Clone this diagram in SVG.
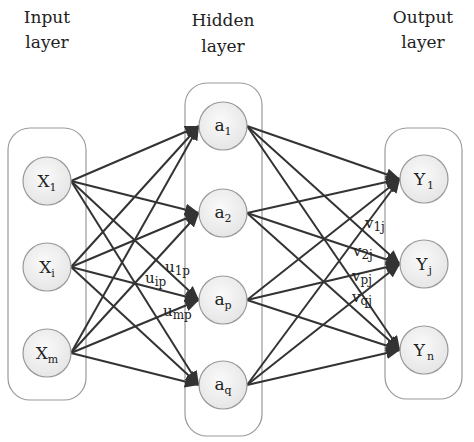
<svg xmlns="http://www.w3.org/2000/svg" width="474" height="442" viewBox="0 0 474 442">
<style>
text{font-family:"DejaVu Serif","Liberation Serif",serif;fill:#222}
.title{font-size:17px;text-anchor:middle}
.lab{font-size:17px;text-anchor:middle}
.sub{font-size:11px}
.w{font-size:15px}
.w .sub{font-size:12px}
.box{fill:#fff;stroke:#9a9a9a;stroke-width:1.2}
.node{fill:url(#g);stroke:#999;stroke-width:1.2}
.c line{stroke:#333;stroke-width:2;marker-end:url(#ah)}
</style>
<defs>
<radialGradient id="g" cx="0.45" cy="0.4" r="0.65"><stop offset="0" stop-color="#fafafa"/><stop offset="1" stop-color="#e4e4e4"/></radialGradient>
<marker id="ah" markerUnits="userSpaceOnUse" markerWidth="14" markerHeight="12" refX="14" refY="6" orient="auto"><path d="M0,0 L14,6 L0,12 Z" fill="#333"/></marker>
</defs>
<rect width="474" height="442" fill="#fff"/>
<g id="titles">
<text class="title" x="47" y="23">Input</text><text class="title" x="47" y="48">layer</text>
<text class="title" x="223" y="26">Hidden</text><text class="title" x="223" y="52">layer</text>
<text class="title" x="423" y="23">Output</text><text class="title" x="423" y="48">layer</text>
</g>
<g id="boxes">
<rect class="box" x="8" y="128" width="78" height="272" rx="22"/>
<rect class="box" x="185" y="83" width="77" height="353" rx="22"/>
<rect class="box" x="385" y="128" width="77" height="271" rx="22"/>
</g>
<g id="connectors" class="c">
<line x1="71" y1="181" x2="199" y2="126"/><line x1="71" y1="181" x2="199" y2="213"/><line x1="71" y1="181" x2="199" y2="300"/><line x1="71" y1="181" x2="199" y2="385"/>
<line x1="71" y1="267" x2="199" y2="126"/><line x1="71" y1="267" x2="199" y2="213"/><line x1="71" y1="267" x2="199" y2="300"/><line x1="71" y1="267" x2="199" y2="385"/>
<line x1="71" y1="353" x2="199" y2="126"/><line x1="71" y1="353" x2="199" y2="213"/><line x1="71" y1="353" x2="199" y2="300"/><line x1="71" y1="353" x2="199" y2="385"/>
<line x1="247" y1="126" x2="400" y2="179"/><line x1="247" y1="126" x2="400" y2="264"/><line x1="247" y1="126" x2="400" y2="350"/>
<line x1="247" y1="213" x2="400" y2="179"/><line x1="247" y1="213" x2="400" y2="264"/><line x1="247" y1="213" x2="400" y2="350"/>
<line x1="247" y1="300" x2="400" y2="179"/><line x1="247" y1="300" x2="400" y2="264"/><line x1="247" y1="300" x2="400" y2="350"/>
<line x1="247" y1="385" x2="400" y2="179"/><line x1="247" y1="385" x2="400" y2="264"/><line x1="247" y1="385" x2="400" y2="350"/>
</g>
<g id="weights" class="w">
<text x="165" y="272">u<tspan class="sub" dy="3">1p</tspan></text>
<text x="145" y="283">u<tspan class="sub" dy="3">ip</tspan></text>
<text x="163" y="316">u<tspan class="sub" dy="3">mp</tspan></text>
<text x="365" y="228">v<tspan class="sub" dy="3">1j</tspan></text>
<text x="353" y="256">v<tspan class="sub" dy="3">2j</tspan></text>
<text x="352" y="281">v<tspan class="sub" dy="3">pj</tspan></text>
<text x="352" y="302">v<tspan class="sub" dy="3">qj</tspan></text>
</g>
<g id="X1"><circle class="node" cx="47" cy="181" r="24"/><text class="lab" x="47" y="187">X<tspan class="sub" dy="4">1</tspan></text></g>
<g id="Xi"><circle class="node" cx="47" cy="267" r="24"/><text class="lab" x="47" y="273">X<tspan class="sub" dy="4">i</tspan></text></g>
<g id="Xm"><circle class="node" cx="47" cy="353" r="24"/><text class="lab" x="47" y="359">X<tspan class="sub" dy="4">m</tspan></text></g>
<g id="a1"><circle class="node" cx="223" cy="126" r="24"/><text class="lab" x="223" y="131">a<tspan class="sub" dy="4">1</tspan></text></g>
<g id="a2"><circle class="node" cx="223" cy="213" r="24"/><text class="lab" x="223" y="218">a<tspan class="sub" dy="4">2</tspan></text></g>
<g id="ap"><circle class="node" cx="223" cy="300" r="24"/><text class="lab" x="223" y="305">a<tspan class="sub" dy="4">p</tspan></text></g>
<g id="aq"><circle class="node" cx="223" cy="385" r="24"/><text class="lab" x="223" y="390">a<tspan class="sub" dy="4">q</tspan></text></g>
<g id="Y1"><circle class="node" cx="424" cy="179" r="24"/><text class="lab" x="424" y="185">Y<tspan class="sub" dy="4" dx="2">1</tspan></text></g>
<g id="Yj"><circle class="node" cx="424" cy="264" r="24"/><text class="lab" x="424" y="270">Y<tspan class="sub" dy="4" dx="1">j</tspan></text></g>
<g id="Yn"><circle class="node" cx="424" cy="350" r="24"/><text class="lab" x="424" y="356">Y<tspan class="sub" dy="4" dx="2">n</tspan></text></g>
</svg>
